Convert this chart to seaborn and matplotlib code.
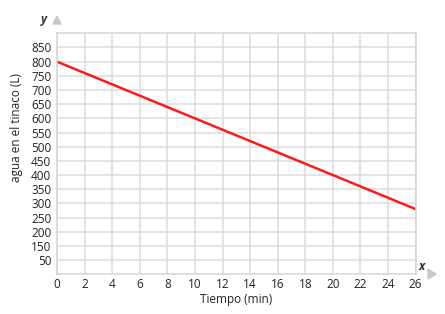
import matplotlib
matplotlib.use("Agg")
import matplotlib.pyplot as plt
import seaborn as sns
import pandas as pd

# Data
tiempo = [0, 26]
agua = [800, 280]
x_ticks = list(range(0, 27, 2))
y_tick_pos = list(range(100, 851, 50))
y_tick_labels = ["50"] + [str(v) for v in range(150, 851, 50)]

sns.set_style("white")
plt.rcParams['font.family'] = ['Open Sans', 'DejaVu Sans']

fig = plt.figure(figsize=(4.45, 3.14), dpi=100)
ax = fig.add_axes([0.128, 0.1264, 0.806, 0.7676])

df = pd.DataFrame({"t": tiempo, "a": agua})
sns.lineplot(data=df, x="t", y="a", ax=ax, color="#ff1a1a", linewidth=1.8)

ax.set_xlim(0, 26)
ax.set_ylim(50, 900)
ax.set_xticks(x_ticks)
ax.set_xticklabels([str(v) for v in x_ticks])
ax.set_yticks(y_tick_pos)
ax.set_yticklabels(y_tick_labels)
ax.tick_params(axis='x', length=0, labelsize=8.5, colors="#222222", pad=2.5)
ax.tick_params(axis='y', length=0, labelsize=8.5, colors="#222222", pad=4)
ax.grid(True, color="#dcdcdc", linewidth=1.1)
for s in ax.spines.values():
    s.set_color("#d4d4d4")
    s.set_linewidth(1.1)
ax.set_xlabel("")
ax.set_ylabel("")

fig.text(236/445, 1-299/314, "Tiempo (min)", ha="center", va="center", fontsize=8.5, color="#222222")
fig.text(17/445, 1-128/314, "agua en el tinaco (L)", ha="center", va="center",
         rotation=90, fontsize=8.5, color="#222222")

# axis arrows and letters
fig.text(422/445, 1-266/314, "x", ha="center", va="center", fontsize=8.5, style="italic",
         fontweight="bold", color="#333333")
fig.text(44/445, 1-20/314, "y", ha="center", va="center", fontsize=8.5, style="italic",
         fontweight="bold", color="#333333")
fig.patches.append(plt.Polygon([[428/445, 1-269/314], [428/445, 1-279/314], [436/445, 1-274/314]],
                               closed=True, transform=fig.transFigure, color="#c8c8c8"))
fig.patches.append(plt.Polygon([[53/445, 1-24/314], [61/445, 1-24/314], [57/445, 1-16/314]],
                               closed=True, transform=fig.transFigure, color="#c8c8c8"))

fig.savefig("out.png", dpi=100)
